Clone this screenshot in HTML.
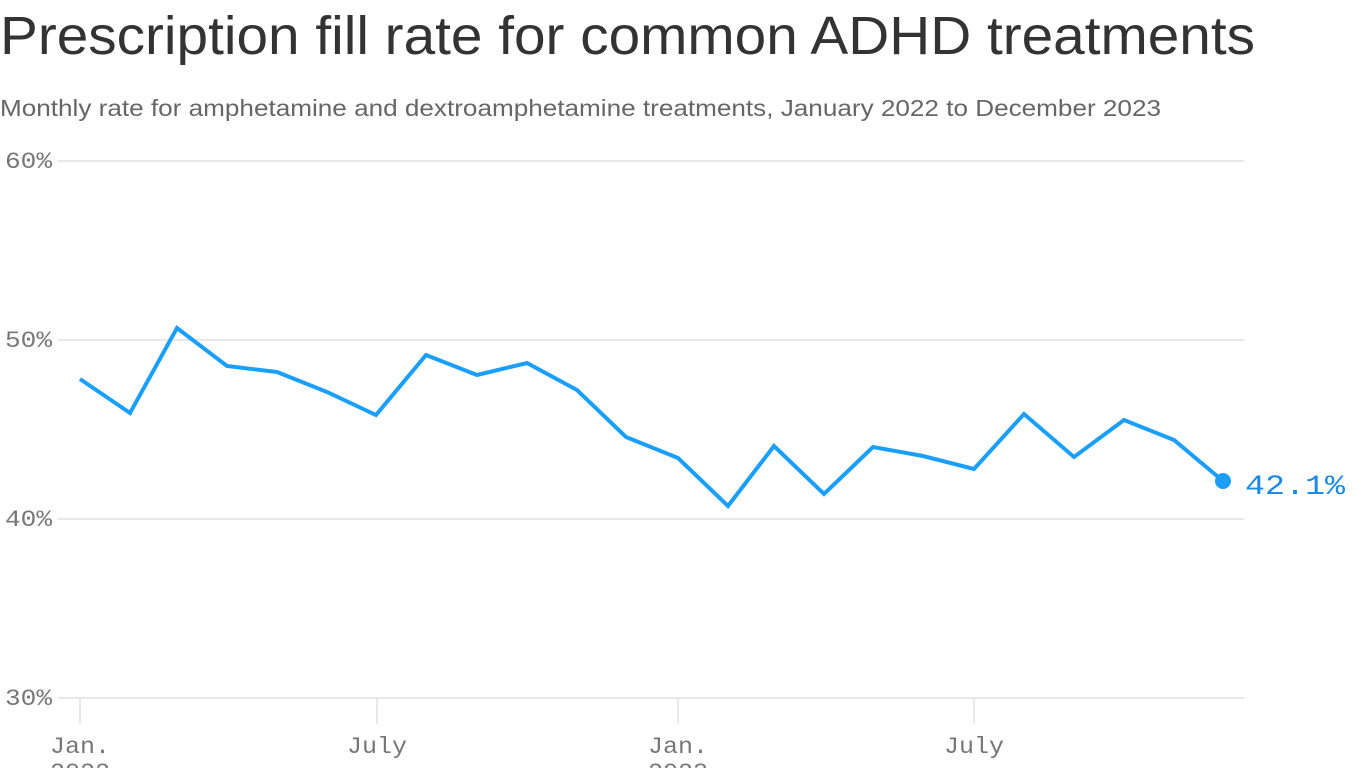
<!DOCTYPE html>
<html><head><meta charset="utf-8"><style>
html,body{margin:0;padding:0;background:#fff;width:1366px;height:768px;overflow:hidden}
svg{display:block}
</style></head><body>
<svg width="1366" height="768" xmlns="http://www.w3.org/2000/svg">
<text x="0" y="54" font-family="Liberation Sans, sans-serif" font-size="54" fill="#333" textLength="1255" lengthAdjust="spacingAndGlyphs">Prescription fill rate for common ADHD treatments</text>
<text x="0" y="116" font-family="Liberation Sans, sans-serif" font-size="23" fill="#666" textLength="1161" lengthAdjust="spacingAndGlyphs">Monthly rate for amphetamine and dextroamphetamine treatments, January 2022 to December 2023</text>
<g stroke="#e0e0e0" stroke-width="1.5">
<line x1="58" y1="161" x2="1244" y2="161"/>
<line x1="58" y1="340" x2="1244" y2="340"/>
<line x1="58" y1="519" x2="1244" y2="519"/>
<line x1="58" y1="698" x2="1244" y2="698"/>
<line x1="80" y1="698" x2="80" y2="724"/>
<line x1="377" y1="698" x2="377" y2="724"/>
<line x1="678" y1="698" x2="678" y2="724"/>
<line x1="974" y1="698" x2="974" y2="724"/>
</g>
<g font-family="Liberation Mono, monospace" font-size="23" fill="#777">
<text x="5" y="168" textLength="47" lengthAdjust="spacingAndGlyphs">60%</text>
<text x="5" y="347" textLength="47" lengthAdjust="spacingAndGlyphs">50%</text>
<text x="5" y="526" textLength="47" lengthAdjust="spacingAndGlyphs">40%</text>
<text x="5" y="705" textLength="47" lengthAdjust="spacingAndGlyphs">30%</text>
<text x="50" y="753" textLength="60" lengthAdjust="spacingAndGlyphs">Jan.</text>
<text x="50" y="779" textLength="60" lengthAdjust="spacingAndGlyphs">2022</text>
<text x="347" y="753" textLength="60" lengthAdjust="spacingAndGlyphs">July</text>
<text x="648" y="753" textLength="60" lengthAdjust="spacingAndGlyphs">Jan.</text>
<text x="648" y="779" textLength="60" lengthAdjust="spacingAndGlyphs">2023</text>
<text x="944" y="753" textLength="60" lengthAdjust="spacingAndGlyphs">July</text>
</g>
<polyline fill="none" stroke="#1a9fff" stroke-width="4" stroke-linejoin="miter" points="80,379 130,413 177,328 227,366 277,372 327,392 376,415 426,355 477,375 527,363 577,390 626,437 678,458 728,506 774,446 824,494 873,447 923,456 974,469 1024,414 1074,457 1124,420 1174,440 1223,481"/>
<circle cx="1223" cy="481" r="8" fill="#1a9fff"/>
<text x="1245" y="494" font-family="Liberation Mono, monospace" font-size="28" fill="#1a8ae6" textLength="100" lengthAdjust="spacingAndGlyphs">42.1%</text>
</svg>
</body></html>
